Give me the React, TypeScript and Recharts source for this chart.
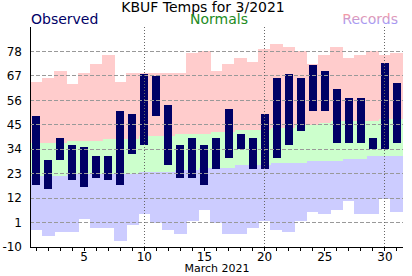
import { ComposedChart, Bar, XAxis, YAxis, ReferenceLine } from "recharts";

const FONT = "'DejaVu Sans', Verdana, sans-serif";

const DAYS = [
  1, 2, 3, 4, 5, 6, 7, 8, 9, 10, 11, 12, 13, 14, 15, 16,
  17, 18, 19, 20, 21, 22, 23, 24, 25, 26, 27, 28, 29, 30, 31,
];
// record high / normal high / normal low / record low
const REC_HIGH = [64, 66, 69, 63, 68, 72, 76, 64, 68, 68, 68, 68, 68, 77, 78, 69, 72, 75, 73, 79, 81, 80, 78, 72, 76, 80, 75, 76, 78, 76, 77];
const NORM_HIGH = [37, 37, 37, 38, 38, 38, 39, 39, 39, 40, 40, 40, 41, 41, 41, 42, 42, 43, 43, 43, 44, 44, 45, 45, 46, 47, 47, 47, 47, 48, 48];
const NORM_LOW = [22, 22, 22, 23, 23, 23, 23, 23, 23, 24, 24, 24, 25, 25, 26, 26, 26, 27, 27, 27, 28, 28, 28, 29, 29, 29, 30, 30, 31, 31, 31];
const REC_LOW = [-2, -5, -3, -3, 3, -1, -1, -7, 0, 5, 1, -2, -4, 2, 7, 1, -4, -4, -1, 2, -2, -3, 2, 6, 5, 7, 11, 5, 5, 12, 6];
// observed
const OBS_HIGH = [49, 29, 39, 36, 35, 31, 31, 51, 50, 68, 67, 54, 36, 39, 36, 39, 52, 41, 39, 50, 66, 68, 66, 72, 69, 61, 57, 57, 39, 73, 64];
const OBS_LOW = [18, 16, 29, 20, 17, 21, 20, 18, 32, 36, 49, 27, 21, 21, 18, 25, 30, 34, 25, 25, 30, 36, 42, 51, 51, 37, 37, 37, 34, 34, 37];

const Y_TICKS = [-10, 1, 12, 23, 34, 45, 56, 67, 78];
const V_GRID = [10, 20, 30];

const data = DAYS.map((day, i) => ({
  day,
  base: REC_LOW[i],
  recLo: NORM_LOW[i] - REC_LOW[i],
  norm: NORM_HIGH[i] - NORM_LOW[i],
  recHi: REC_HIGH[i] - NORM_HIGH[i],
  obs: [OBS_LOW[i], OBS_HIGH[i]],
}));

export default function App() {
  return (
    <div style={{ position: "absolute", left: 0, top: 0, fontFamily: FONT }}>
      <ComposedChart
        width={412}
        height={276}
        data={data}
        margin={{ top: 27, right: 9, left: 0, bottom: 0 }}
        barGap={0}
        barCategoryGap={0}
        style={{ shapeRendering: "crispEdges" }}
      >
        <defs>
          <linearGradient id="recGrad" x1="0" y1="0" x2="0" y2="1">
            <stop offset="15%" stopColor="#ff9999" />
            <stop offset="85%" stopColor="#9999ff" />
          </linearGradient>
        </defs>
        <XAxis
          xAxisId="band"
          dataKey="day"
          interval={0}
          height={29}
          tickSize={4}
          tickMargin={1}
          axisLine={{ stroke: "#000" }}
          tickLine={{ stroke: "#000" }}
          tick={{ fontSize: 12, fill: "#000", fontFamily: FONT }}
          tickFormatter={(d: number) => (d % 5 === 0 ? String(d) : "")}
        />
        <XAxis xAxisId="obs" dataKey="day" hide />
        <XAxis
          xAxisId="top"
          orientation="top"
          dataKey="day"
          height={0}
          tick={false}
          tickLine={false}
          axisLine={{ stroke: "#000" }}
        />
        <YAxis
          type="number"
          domain={[-10, 89]}
          ticks={Y_TICKS}
          interval={0}
          allowDataOverflow
          width={30}
          tickLine={false}
          axisLine={{ stroke: "#000" }}
          tick={{ fontSize: 12, fill: "#000", fontFamily: FONT }}
        />
        <YAxis
          yAxisId="right"
          orientation="right"
          type="number"
          domain={[0, 1]}
          width={0}
          tick={false}
          tickLine={false}
          axisLine={{ stroke: "#000" }}
        />

        <Bar xAxisId="band" stackId="b" dataKey="base" fill="#fff" fillOpacity={0} isAnimationActive={false} />
        <Bar xAxisId="band" stackId="b" dataKey="recLo" fill="#ccccff" stroke="#ccccff" strokeWidth={1} isAnimationActive={false} />
        <Bar xAxisId="band" stackId="b" dataKey="norm" fill="#ccffcc" stroke="#ccffcc" strokeWidth={1} isAnimationActive={false} />
        <Bar xAxisId="band" stackId="b" dataKey="recHi" fill="#ffcccc" stroke="#ffcccc" strokeWidth={1} isAnimationActive={false} />

        {Y_TICKS.filter((t) => t > -10).map((t) => (
          <ReferenceLine key={t} y={t} xAxisId="band" stroke="#999" strokeDasharray="4 2" />
        ))}
        {V_GRID.map((d) => (
          <ReferenceLine key={d} x={d} xAxisId="band" stroke="#666" strokeDasharray="1 2" />
        ))}

        <Bar xAxisId="obs" dataKey="obs" barSize={8} fill="#000066" isAnimationActive={false} />

        <text x={203} y={12} textAnchor="middle" fontSize={14} fill="#000" fontFamily={FONT}>
          KBUF Temps for 3/2021
        </text>
        <text x={31} y={24} fontSize={14} fill="#000066" fontFamily={FONT}>
          Observed
        </text>
        <text x={219} y={24} textAnchor="middle" fontSize={14} fill="#228b22" fontFamily={FONT}>
          Normals
        </text>
        <text x={398} y={24} textAnchor="end" fontSize={14} fill="url(#recGrad)" fontFamily={FONT}>
          Records
        </text>
        <text x={217} y={272} textAnchor="middle" fontSize={11} fill="#000" fontFamily={FONT}>
          March 2021
        </text>
      </ComposedChart>
    </div>
  );
}
